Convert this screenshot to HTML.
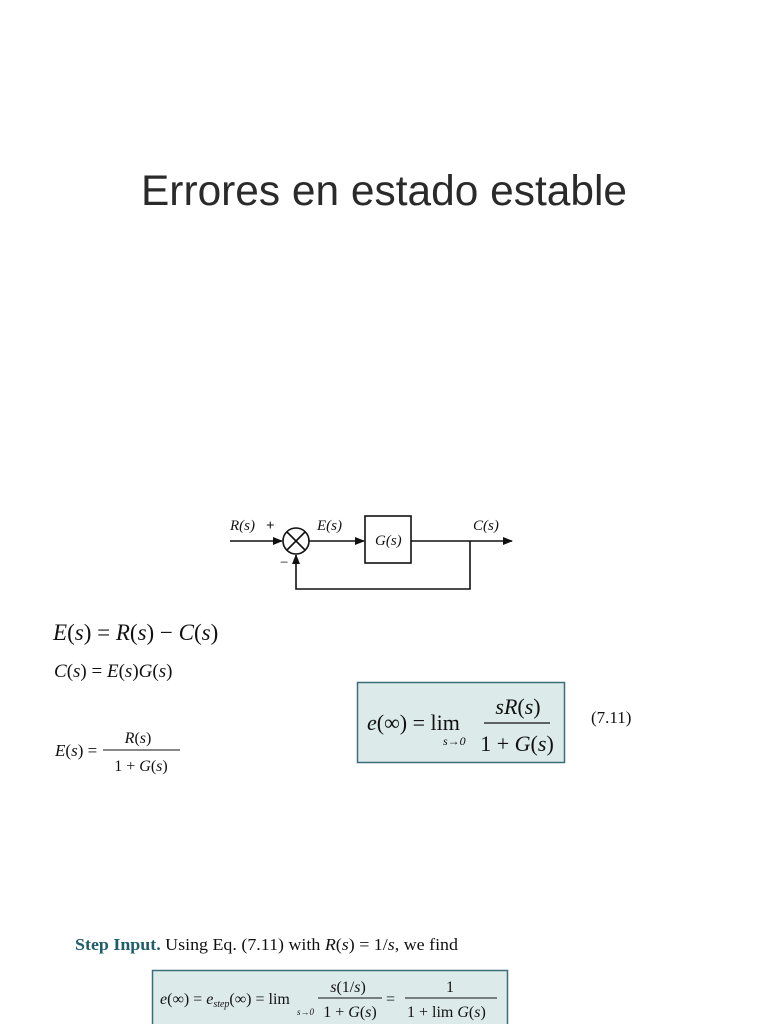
<!DOCTYPE html>
<html><head><meta charset="utf-8"><style>
html,body{margin:0;padding:0;background:#fff;}
svg{display:block}
.m{font-family:"Liberation Serif",serif;fill:#111}
.i{font-style:italic}
</style></head><body>
<svg width="768" height="1024" viewBox="0 0 768 1024" xmlns="http://www.w3.org/2000/svg">
<defs><marker id="a" markerWidth="10" markerHeight="8" refX="9" refY="4" orient="auto" markerUnits="userSpaceOnUse"><path d="M0,0 L10,4 L0,8 Z" fill="#111"/></marker></defs>
<text x="141" y="205" font-family="Liberation Sans,sans-serif" font-size="43" fill="#2a2a2a" textLength="486" lengthAdjust="spacingAndGlyphs">Errores en estado estable</text>

<g stroke="#111" stroke-width="1.6" fill="none">
<line x1="230" y1="541" x2="282" y2="541" marker-end="url(#a)"/>
<circle cx="296" cy="541" r="13"/>
<line x1="287" y1="532" x2="305" y2="550"/>
<line x1="305" y1="532" x2="287" y2="550"/>
<line x1="309" y1="541" x2="364" y2="541" marker-end="url(#a)"/>
<rect x="365" y="516" width="46" height="47"/>
<line x1="411" y1="541" x2="512" y2="541" marker-end="url(#a)"/>
<polyline points="470,541 470,589 296,589 296,555" marker-end="url(#a)"/>
</g>
<text class="m i" x="230" y="530" font-size="15">R(s)</text>
<text class="m" x="266" y="530" font-size="15" font-weight="bold">+</text>
<text class="m i" x="317" y="530" font-size="15">E(s)</text>
<text class="m i" x="375" y="545" font-size="15">G(s)</text>
<text class="m i" x="473" y="530" font-size="15">C(s)</text>
<text class="m" x="280" y="567" font-size="15">−</text>

<text class="m" x="53" y="640" font-size="23"><tspan class="i">E</tspan>(<tspan class="i">s</tspan>) = <tspan class="i">R</tspan>(<tspan class="i">s</tspan>) − <tspan class="i">C</tspan>(<tspan class="i">s</tspan>)</text>
<text class="m" x="54" y="677" font-size="19"><tspan class="i">C</tspan>(<tspan class="i">s</tspan>) = <tspan class="i">E</tspan>(<tspan class="i">s</tspan>)<tspan class="i">G</tspan>(<tspan class="i">s</tspan>)</text>
<text class="m" x="55" y="756" font-size="17"><tspan class="i">E</tspan>(<tspan class="i">s</tspan>) =</text>
<text class="m" x="138" y="743" font-size="16" text-anchor="middle"><tspan class="i">R</tspan>(<tspan class="i">s</tspan>)</text>
<line x1="103" y1="750" x2="180" y2="750" stroke="#111" stroke-width="1"/>
<text class="m" x="141" y="771" font-size="16" text-anchor="middle">1 + <tspan class="i">G</tspan>(<tspan class="i">s</tspan>)</text>

<rect x="357.5" y="682.5" width="207" height="80" fill="#dceaea" stroke="#3a6f7a" stroke-width="1.5"/>
<text class="m" x="367" y="730" font-size="22"><tspan class="i">e</tspan>(∞) = lim</text>
<text class="m i" x="443" y="745" font-size="12">s→0</text>
<text class="m" x="518" y="714" font-size="22" text-anchor="middle"><tspan class="i">sR</tspan>(<tspan class="i">s</tspan>)</text>
<line x1="484" y1="723" x2="550" y2="723" stroke="#111" stroke-width="1.2"/>
<text class="m" x="517" y="751" font-size="22" text-anchor="middle">1 + <tspan class="i">G</tspan>(<tspan class="i">s</tspan>)</text>
<text class="m" x="591" y="723" font-size="17">(7.11)</text>

<text class="m" x="75" y="950" font-size="17" textLength="383" lengthAdjust="spacingAndGlyphs"><tspan font-weight="bold" fill="#1f5d6b">Step Input.</tspan> Using Eq. (7.11) with <tspan class="i">R</tspan>(<tspan class="i">s</tspan>) = 1/<tspan class="i">s</tspan>, we find</text>
<rect x="152.5" y="970.5" width="355" height="60" fill="#dceaea" stroke="#3a6f7a" stroke-width="1.5"/>
<text class="m" x="160" y="1004" font-size="16"><tspan class="i">e</tspan>(∞) = <tspan class="i">e</tspan><tspan font-size="10" dy="3" class="i">step</tspan><tspan dy="-3">(∞) = lim</tspan></text>
<text class="m i" x="297" y="1015" font-size="9">s→0</text>
<text class="m" x="348" y="992" font-size="16" text-anchor="middle"><tspan class="i">s</tspan>(1/<tspan class="i">s</tspan>)</text>
<line x1="318" y1="998" x2="382" y2="998" stroke="#111" stroke-width="1"/>
<text class="m" x="350" y="1017" font-size="16" text-anchor="middle">1 + <tspan class="i">G</tspan>(<tspan class="i">s</tspan>)</text>
<text class="m" x="386" y="1004" font-size="16">=</text>
<text class="m" x="450" y="992" font-size="16" text-anchor="middle">1</text>
<line x1="405" y1="998" x2="497" y2="998" stroke="#111" stroke-width="1"/>
<text class="m" x="407" y="1017" font-size="16">1 + lim  <tspan class="i">G</tspan>(<tspan class="i">s</tspan>)</text>
</svg>
</body></html>
